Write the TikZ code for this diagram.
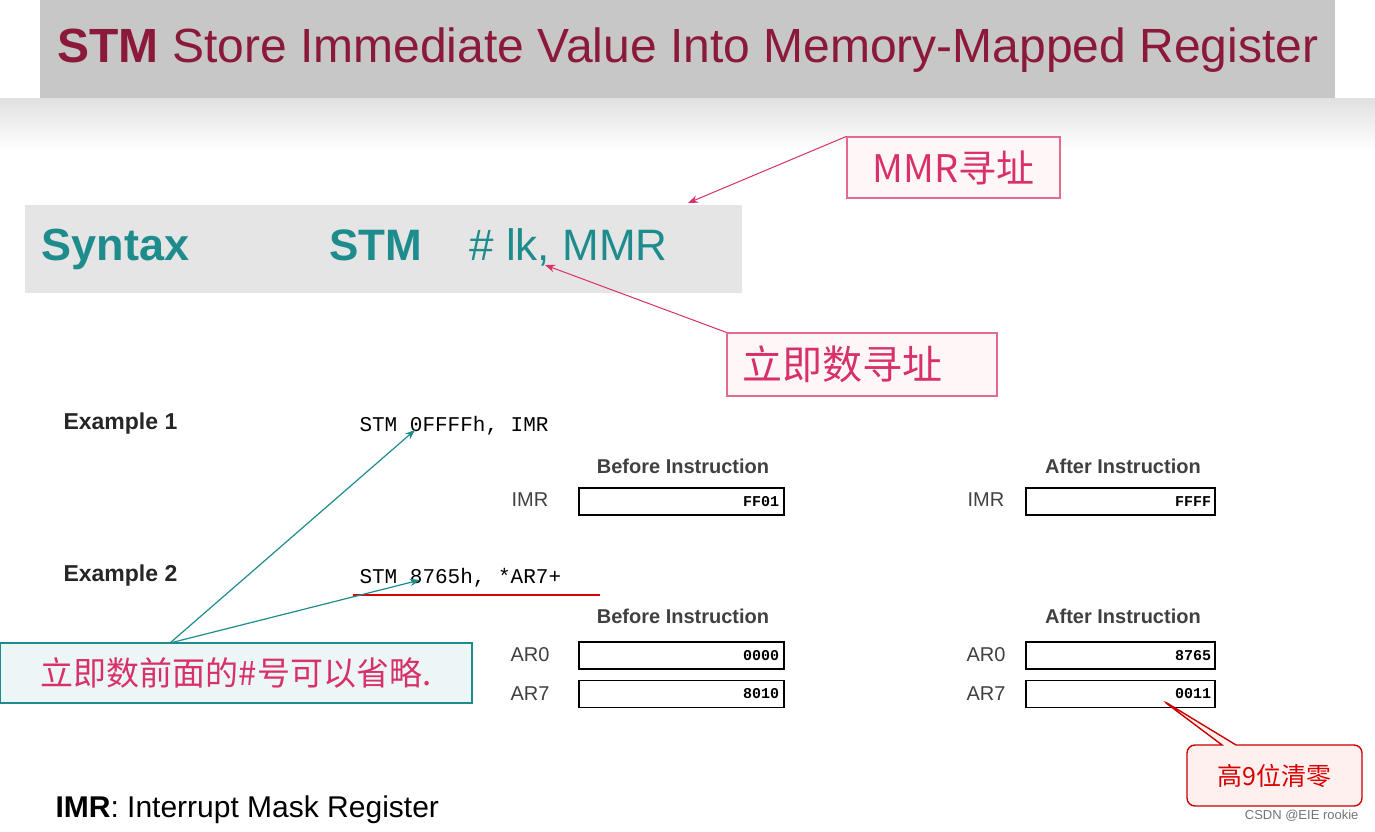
\documentclass[tikz,border=0pt]{standalone}
\usepackage{fontspec}
\setmainfont{Liberation Sans}
\newfontfamily\cjk{Noto Sans CJK SC}
\newfontfamily\mono{Liberation Mono}
\usetikzlibrary{shapes.callouts,arrows.meta}
\definecolor{tred}{HTML}{8B1A3A}
\definecolor{teal1}{HTML}{1E8C8C}
\definecolor{pinkc}{HTML}{D8306A}
\definecolor{pinkb}{HTML}{E46A8E}
\begin{document}
\begin{tikzpicture}[x=1pt,y=-1pt,
 reg/.style={draw=black,line width=1.6pt,minimum width=205pt,text width=195pt,minimum height=27pt,inner sep=0pt,font=\mono\fontsize{15}{15}\selectfont\bfseries,align=right},
 lbl/.style={font=\fontsize{20}{20}\selectfont,text=black!75},
 hdr/.style={font=\fontsize{20}{20}\selectfont\bfseries,text=black!75},
 ex/.style={font=\fontsize{23}{23}\selectfont\bfseries,text=black!85,anchor=west},
 code/.style={font=\mono\fontsize{21}{21}\selectfont,anchor=west},
 pbox/.style={draw=pinkb,line width=1.2pt,fill=pink!12,inner sep=0pt,font=\cjk\fontsize{38}{38}\selectfont,text=pinkc},
 parr/.style={draw=pinkc,line width=1pt,-{Stealth[length=10pt]}},
 tarr/.style={draw=teal1,line width=1.2pt,-{Stealth[length=10pt]}}]
\useasboundingbox (0,0) rectangle (1375,831);
\fill[white] (0,0) rectangle (1375,831);
\shade[top color=black!12,bottom color=white] (0,98) rectangle (1375,150);
\fill[black!22] (40,0) rectangle (1335,98);
\node[font=\fontsize{48}{48}\selectfont,text=tred] (title) at (688,50) {\textbf{STM} Store Immediate Value Into Memory-Mapped Register};
\fill[black!10] (25,205) rectangle (742,293);
\node[font=\fontsize{45}{45}\selectfont\bfseries,text=teal1,anchor=base west] (syn) at (38,260) {Syntax};
\node[font=\fontsize{44}{44}\selectfont\bfseries,text=teal1,anchor=base west] (stm) at (326,260) {STM};
\node[font=\fontsize{44}{44}\selectfont,text=teal1,anchor=base west] (ops) at (466,260) {\# lk, MMR};
\node[pbox,minimum width=213pt,minimum height=61pt] (mmr) at (953.5,167.5) {MMR寻址};
\node[pbox,minimum width=270pt,minimum height=63pt,font=\cjk\fontsize{40}{40}\selectfont] (imm) at (862,364.5) {立即数寻址\hspace*{40pt}};
\coordinate (m1) at (688,203);
\coordinate (i1) at (545,265);
\draw[parr] (mmr.north west) -- (m1);
\draw[parr] (imm.north west) -- (i1);
\node[ex] (e1) at (60,424) {Example 1};
\node[code] (c1) at (356,426) {STM 0FFFFh, IMR};
\node[hdr] (b1) at (683,466) {Before Instruction};
\node[hdr] (a1) at (1123,466) {After Instruction};
\node[lbl] (l1) at (530,500) {IMR};
\node[reg] (r1) at (681.5,501.5) {FF01};
\node[lbl] (l2) at (986,500) {IMR};
\node[reg,minimum width=189pt,text width=181pt] (r2) at (1120.5,501.5) {FFFF};
\node[ex] (e2) at (60,576) {Example 2};
\node[code] (c2) at (356,578) {STM 8765h, *AR7+};
\draw[red!85!black,line width=1.6pt] (353,595) -- (600,595);
\node[hdr] (b2) at (683,616) {Before Instruction};
\node[hdr] (a2) at (1123,616) {After Instruction};
\node[lbl] (l3) at (530,655) {AR0};
\node[reg] (r3) at (681.5,655.5) {0000};
\node[lbl] (l4) at (530,694) {AR7};
\node[reg] (r4) at (681.5,694) {8010};
\node[lbl] (l5) at (986,655) {AR0};
\node[reg,minimum width=189pt,text width=181pt] (r5) at (1120.5,655.5) {8765};
\node[lbl] (l6) at (986,694) {AR7};
\node[reg,minimum width=189pt,text width=181pt] (r6) at (1120.5,694) {0011};
\node[draw=teal1,line width=1.2pt,fill=teal1!8,minimum width=472pt,minimum height=60pt,inner sep=0pt,font=\cjk\fontsize{33}{33}\selectfont,text=pinkc] (om) at (236,673) {立即数前面的\#号可以省略.};
\coordinate (o) at (170,643);
\coordinate (t1) at (415,430);
\coordinate (t2) at (420,580);
\draw[tarr] (o) -- (t1);
\draw[tarr] (o) -- (t2);
\coordinate (z) at (1162,700);
\node[rectangle callout,rounded corners=8pt,draw=red!80!black,line width=1.4pt,fill=red!6,minimum width=175pt,minimum height=61pt,font=\cjk\fontsize{25}{25}\selectfont,text=red!85!black,callout absolute pointer={(z)},callout pointer width=14pt] (h) at (1274.5,775.5) {高9位清零};
\node[font=\fontsize{30}{30}\selectfont,anchor=west] (foot) at (52,810) {\textbf{IMR}: Interrupt Mask Register};
\node[font=\fontsize{13}{13}\selectfont,text=black!55,anchor=east] (wm) at (1362,816) {CSDN @EIE rookie};
\end{tikzpicture}
\end{document}
